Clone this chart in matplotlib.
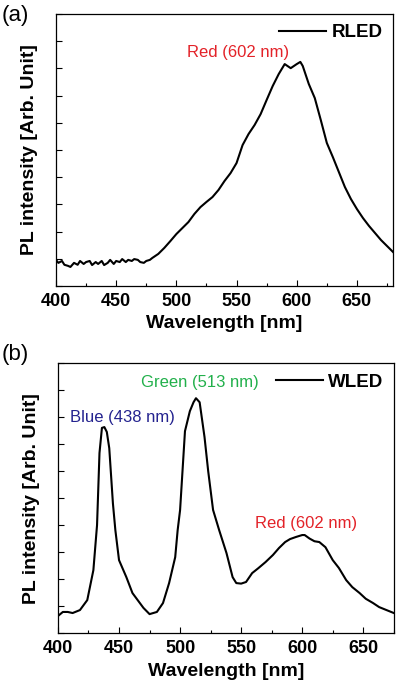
import matplotlib.pyplot as plt
from matplotlib.ticker import MultipleLocator

plt.rcParams["font.family"] = ["Liberation Sans", "DejaVu Sans"]

# (a) RLED spectrum
wl_a = [400, 402, 405, 407, 410, 412, 415, 418, 420, 423, 425, 428, 430, 433,
        435, 438, 440, 443, 445, 448, 450, 453, 455, 458, 460, 463, 465, 468,
        470, 473, 475, 478, 480, 485, 490, 495, 500, 505, 510, 515, 520, 525,
        530, 535, 540, 545, 550, 555, 560, 565, 570, 575, 580, 585, 590, 595,
        600, 603, 605, 610, 615, 620, 625, 630, 635, 640, 645, 650, 655, 660,
        665, 670, 675, 680]
int_a = [0.096, 0.085, 0.092, 0.078, 0.074, 0.070, 0.085, 0.078, 0.092, 0.081,
         0.088, 0.092, 0.077, 0.088, 0.081, 0.092, 0.077, 0.085, 0.096, 0.081,
         0.092, 0.088, 0.099, 0.088, 0.096, 0.092, 0.099, 0.096, 0.088, 0.085,
         0.092, 0.096, 0.103, 0.118, 0.140, 0.165, 0.191, 0.213, 0.235, 0.265,
         0.290, 0.309, 0.327, 0.353, 0.386, 0.415, 0.452, 0.518, 0.559, 0.592,
         0.632, 0.684, 0.735, 0.779, 0.816, 0.801, 0.816, 0.824, 0.809, 0.743,
         0.691, 0.610, 0.526, 0.474, 0.419, 0.364, 0.320, 0.283, 0.250, 0.221,
         0.195, 0.169, 0.147, 0.125]

# (b) WLED spectrum
wl_b = [400, 404, 408, 412, 418, 424, 429, 432, 434, 436, 438, 440, 442, 445,
        447, 450, 456, 461, 470, 475, 481, 486, 491, 496, 498, 500, 504, 508,
        511, 513, 516, 520, 523, 527, 532, 538, 543, 546, 550, 554, 559, 564,
        570, 576, 581, 586, 590, 595, 600, 602, 606, 610, 614, 619, 625, 630,
        636, 641, 647, 652, 658, 663, 669, 675]
int_b = [0.063, 0.078, 0.078, 0.074, 0.085, 0.122, 0.233, 0.400, 0.667, 0.760,
         0.763, 0.745, 0.685, 0.480, 0.381, 0.270, 0.207, 0.148, 0.093, 0.070,
         0.078, 0.111, 0.185, 0.281, 0.381, 0.456, 0.748, 0.822, 0.855, 0.870,
         0.855, 0.726, 0.600, 0.456, 0.381, 0.296, 0.207, 0.185, 0.183, 0.189,
         0.222, 0.240, 0.263, 0.289, 0.315, 0.337, 0.348, 0.356, 0.363, 0.363,
         0.350, 0.340, 0.337, 0.318, 0.270, 0.241, 0.196, 0.170, 0.148, 0.127,
         0.111, 0.096, 0.085, 0.074]

ticks_x = [400, 450, 500, 550, 600, 650]

fig = plt.figure(figsize=(3.97, 6.85), dpi=100)
ax1 = fig.add_axes([0.141, 0.5825, 0.849, 0.397])
ax2 = fig.add_axes([0.146, 0.0759, 0.846, 0.394])

for ax, wl, inten, xmax, name in [(ax1, wl_a, int_a, 680, "RLED"),
                                  (ax2, wl_b, int_b, 675, "WLED")]:
    ax.plot(wl, inten, color="black", lw=1.5, label=name)
    ax.set_xlim(400, xmax)
    ax.set_ylim(0, 1)
    ax.set_xticks(ticks_x)
    ax.xaxis.set_minor_locator(MultipleLocator(25))
    ax.yaxis.set_major_locator(MultipleLocator(0.1))
    ax.set_yticklabels([])
    ax.tick_params(direction="in", length=4, width=0.8, top=False, right=False,
                   labelsize=13, pad=5)
    ax.tick_params(which="minor", direction="in", length=2.5, width=0.8)
    for lbl in ax.get_xticklabels():
        lbl.set_fontweight("bold")
    for s in ax.spines.values():
        s.set_linewidth(0.9)
    ax.set_xlabel("Wavelength [nm]", fontsize=14, fontweight="bold", labelpad=4)
    ax.set_ylabel("PL intensity [Arb. Unit]", fontsize=14, fontweight="bold",
                  labelpad=8)
    leg = ax.legend(loc="upper right", frameon=False, handlelength=2.5,
                    handletextpad=0.3, borderaxespad=0.15,
                    prop={"weight": "bold", "size": 13.5})

ax1.text(551, 0.86, "Red (602 nm)", color="#e32228", fontsize=12, ha="center", va="center")
ax2.text(453, 0.80, "Blue (438 nm)", color="#24238f", fontsize=12, ha="center", va="center")
ax2.text(516, 0.93, "Green (513 nm)", color="#22b04b", fontsize=12, ha="center", va="center")
ax2.text(603, 0.407, "Red (602 nm)", color="#e32228", fontsize=12, ha="center", va="center")

fig.text(0.003, 0.978, "(a)", fontsize=16, va="center")
fig.text(0.005, 0.482, "(b)", fontsize=16, va="center")

fig.savefig("out.png", dpi=100)
